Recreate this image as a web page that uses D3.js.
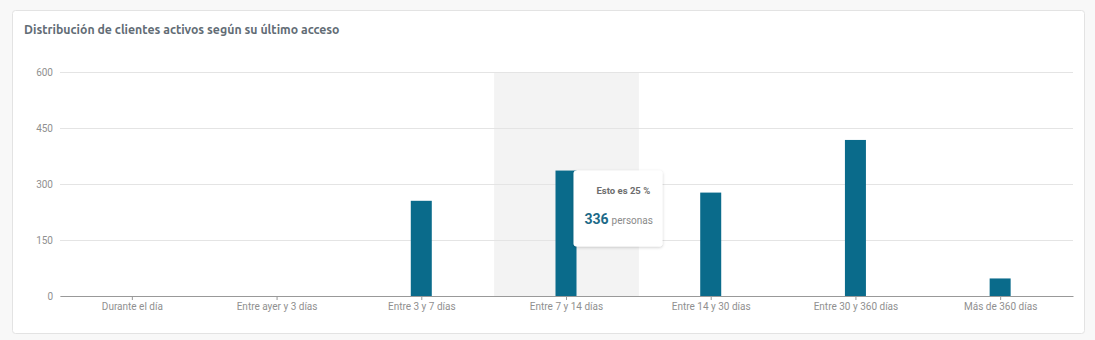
<!DOCTYPE html>
<html>
<head>
<meta charset="utf-8">
<script src="https://cdn.jsdelivr.net/npm/d3@7"></script>
<style>
  body { margin: 0; background: #f8f8f8; font-family: Roboto, sans-serif; }
  svg { display: block; }
</style>
</head>
<body>
<svg width="1095" height="340"></svg>
<script>
var categories = ["Durante el día", "Entre ayer y 3 días", "Entre 3 y 7 días", "Entre 7 y 14 días",
                  "Entre 14 y 30 días", "Entre 30 y 360 días", "Más de 360 días"];
var values = [0, 0, 255, 336, 277, 418, 47];
var yTicks = [0, 150, 300, 450, 600];
var highlighted = "Entre 7 y 14 días";

var svg = d3.select("svg");
var margin = {left: 60, right: 1073, top: 72, bottom: 296};

// card
svg.append("rect").attr("x", 12.5).attr("y", 10.5).attr("width", 1072).attr("height", 323)
  .attr("rx", 3).attr("fill", "#fff").attr("stroke", "#e3e3e3");
svg.append("text").attr("x", 24).attr("y", 34)
  .attr("font-family", "Ubuntu, 'Open Sans', sans-serif").attr("font-size", 12.3).attr("font-weight", 600)
  .attr("fill", "#626c75").text("Distribución de clientes activos según su último acceso");

var x = d3.scaleBand().domain(categories).range([margin.left, margin.right]);
var y = d3.scaleLinear().domain([0, 600]).range([margin.bottom, margin.top]);

// highlight band
svg.append("rect").attr("x", x(highlighted)).attr("y", y(600))
  .attr("width", x.bandwidth()).attr("height", y(0) - y(600)).attr("fill", "#f3f3f3");

// grid + y labels
var yAxis = svg.append("g").attr("transform", "translate(" + margin.left + ",0)")
  .call(d3.axisLeft(y).tickValues(yTicks).tickSize(-(margin.right - margin.left)).tickPadding(7));
yAxis.select(".domain").remove();
yAxis.selectAll(".tick line").attr("stroke", "#e4e4e4");
yAxis.selectAll(".tick text").attr("fill", "#909090").attr("font-size", 10).attr("font-family", "Roboto, sans-serif");

// bars
var barW = 21;
svg.selectAll(".bar").data(values).enter().append("rect")
  .attr("x", function(d, i){ return x(categories[i]) + x.bandwidth() / 2 - barW / 2 - 0.5; })
  .attr("y", function(d){ return y(d); })
  .attr("width", barW)
  .attr("height", function(d){ return y(0) - y(d); })
  .attr("fill", "#0a6b8b");

// x axis
var xAxis = svg.append("g").attr("transform", "translate(0," + margin.bottom + ")")
  .call(d3.axisBottom(x).tickSize(4).tickPadding(3).tickSizeOuter(0));
xAxis.select(".domain").attr("stroke", "#999");
xAxis.selectAll(".tick line").attr("stroke", "#999");
xAxis.selectAll(".tick text").attr("fill", "#909090").attr("font-size", 10).attr("font-family", "Roboto, sans-serif");

// tooltip
var hi = categories.indexOf(highlighted);
var total = d3.sum(values);
var tx = x(highlighted) + x.bandwidth() / 2 + barW / 2 - 3.5, ty = y(values[hi]);
var defs = svg.append("defs");
var f = defs.append("filter").attr("id", "sh").attr("x", "-20%").attr("y", "-20%").attr("width", "140%").attr("height", "140%");
f.append("feDropShadow").attr("dx", 0).attr("dy", 1).attr("stdDeviation", 1.5).attr("flood-color", "#000").attr("flood-opacity", 0.2);
var tip = svg.append("g").attr("transform", "translate(" + tx + "," + ty + ")");
tip.append("rect").attr("width", 89).attr("height", 76).attr("rx", 3).attr("fill", "#fff").attr("filter", "url(#sh)");
tip.append("text").attr("x", 23).attr("y", 23).attr("font-size", 9.5).attr("font-weight", 700)
  .attr("fill", "#6d6d6d").text("Esto es " + Math.round(values[hi] / total * 100) + " %");
var t2 = tip.append("text").attr("x", 11).attr("y", 53);
t2.append("tspan").attr("font-size", 14).attr("font-weight", 700).attr("fill", "#1c6a88").text(values[hi]);
t2.append("tspan").attr("font-size", 10).attr("fill", "#8a8a8a").attr("dx", 3).text("personas");
</script>
</body>
</html>
